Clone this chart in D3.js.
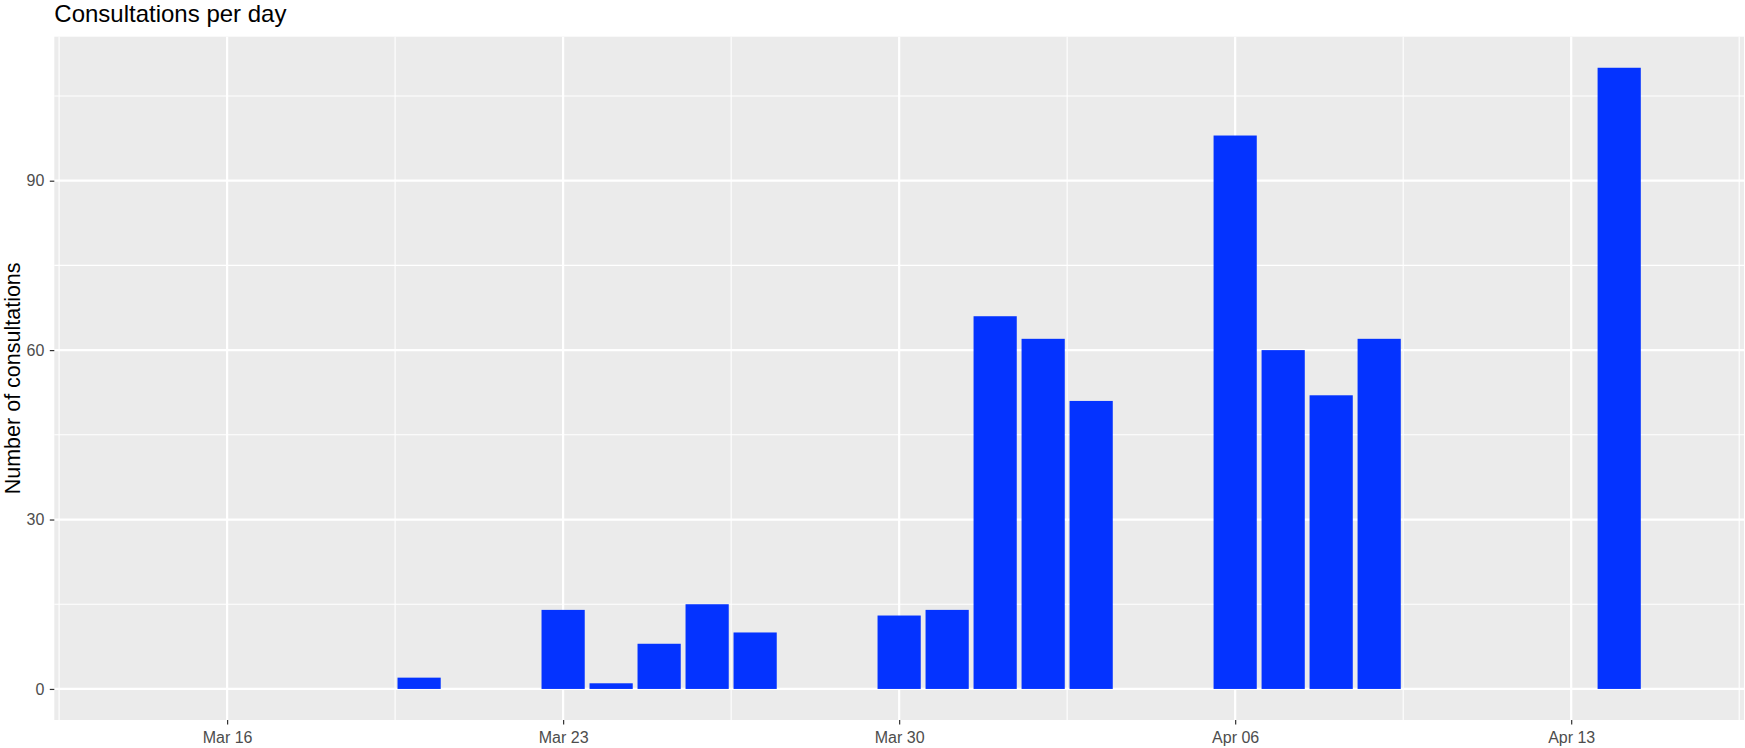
<!DOCTYPE html>
<html>
<head>
<meta charset="utf-8">
<script src="https://cdn.jsdelivr.net/npm/d3@7"></script>
<style>
  body { margin: 0; background: #fff; }
  svg text { font-family: "Liberation Sans", Arial, sans-serif; }
</style>
</head>
<body>
<div id="chart"></div>
<script>
// data
const days = ["2020-03-20", "2020-03-23", "2020-03-24", "2020-03-25", "2020-03-26", "2020-03-27",
  "2020-03-30", "2020-03-31", "2020-04-01", "2020-04-02", "2020-04-03",
  "2020-04-06", "2020-04-07", "2020-04-08", "2020-04-09", "2020-04-14"];
const consultations = [2, 14, 1, 8, 15, 10, 13, 14, 66, 62, 51, 98, 60, 52, 62, 110];

const xBreaks = ["2020-03-16", "2020-03-23", "2020-03-30", "2020-04-06", "2020-04-13"];
const xTickLabels = ["Mar 16", "Mar 23", "Mar 30", "Apr 06", "Apr 13"];
const xLimits = ["2020-03-14", "2020-04-15"];
const yBreaks = [0, 30, 60, 90];
const yMinorBreaks = [15, 45, 75, 105];

const width = 1745;
const height = 748;
const margin = { top: 36.7, right: 1, bottom: 28, left: 54.3 };
const DAY = 864e5;

const svg = d3.select('#chart')
  .append('svg')
  .attr('width', width)
  .attr('height', height);

const parse = d3.utcParse('%Y-%m-%d');
const data = days.map((d, i) => ({ date: parse(d), n: consultations[i] }));

// ggplot-style 5% expansion on both scales
const lim = xLimits.map(parse);
const span = lim[1] - lim[0];
const x = d3.scaleUtc()
  .domain([new Date(+lim[0] - span * 0.05), new Date(+lim[1] + span * 0.05)])
  .range([margin.left, width - margin.right]);

const yMax = d3.max(consultations);
const y = d3.scaleLinear()
  .domain([-yMax * 0.05, yMax * 1.05])
  .range([height - margin.bottom, margin.top]);

const majors = xBreaks.map(parse);
const minors = majors.map(d => new Date(+d - 3.5 * DAY))
  .concat([new Date(+majors[majors.length - 1] + 3.5 * DAY)])
  .filter(d => d >= x.domain()[0] && d <= x.domain()[1]);

// panel
svg.append('rect')
  .attr('x', margin.left)
  .attr('y', margin.top)
  .attr('width', width - margin.left - margin.right)
  .attr('height', height - margin.top - margin.bottom)
  .attr('fill', '#ebebeb');

const grid = svg.append('g');

grid.selectAll('.ymin')
  .data(yMinorBreaks)
  .enter()
  .append('line')
  .attr('x1', margin.left)
  .attr('x2', width - margin.right)
  .attr('y1', d => y(d))
  .attr('y2', d => y(d))
  .attr('stroke', '#fff')
  .attr('stroke-width', 1.1);

grid.selectAll('.xmin')
  .data(minors)
  .enter()
  .append('line')
  .attr('x1', d => x(d))
  .attr('x2', d => x(d))
  .attr('y1', margin.top)
  .attr('y2', height - margin.bottom)
  .attr('stroke', '#fff')
  .attr('stroke-width', 1.1);

grid.selectAll('.ymaj')
  .data(yBreaks)
  .enter()
  .append('line')
  .attr('x1', margin.left)
  .attr('x2', width - margin.right)
  .attr('y1', d => y(d))
  .attr('y2', d => y(d))
  .attr('stroke', '#fff')
  .attr('stroke-width', 2.2);

grid.selectAll('.xmaj')
  .data(majors)
  .enter()
  .append('line')
  .attr('x1', d => x(d))
  .attr('x2', d => x(d))
  .attr('y1', margin.top)
  .attr('y2', height - margin.bottom)
  .attr('stroke', '#fff')
  .attr('stroke-width', 2.2);

// bars, width 0.9 day
svg.append('g')
  .selectAll('rect')
  .data(data)
  .enter()
  .append('rect')
  .attr('x', d => x(new Date(+d.date - 0.45 * DAY)))
  .attr('width', d => x(new Date(+d.date + 0.45 * DAY)) - x(new Date(+d.date - 0.45 * DAY)))
  .attr('y', d => y(d.n))
  .attr('height', d => y(0) - y(d.n))
  .attr('fill', '#0433ff');

// axes
const xAxis = svg.append('g')
  .attr('transform', `translate(0,${height - margin.bottom})`)
  .call(d3.axisBottom(x)
    .tickValues(majors)
    .tickFormat((d, i) => xTickLabels[i])
    .tickSizeOuter(0)
    .tickSize(4.5)
    .tickPadding(7));

const yAxis = svg.append('g')
  .attr('transform', `translate(${margin.left},0)`)
  .call(d3.axisLeft(y)
    .tickValues(yBreaks)
    .tickSizeOuter(0)
    .tickSize(4.5)
    .tickPadding(5.5));

[xAxis, yAxis].forEach(a => {
  a.select('.domain').remove();
  a.selectAll('line').attr('stroke', '#333').attr('stroke-width', 1.2);
  a.selectAll('text')
    .attr('fill', '#4d4d4d')
    .style('font-size', '16px')
    .style('font-family', '"Liberation Sans", Arial, sans-serif');
});

// titles
svg.append('text')
  .attr('x', margin.left)
  .attr('y', 22)
  .attr('font-size', 24)
  .attr('fill', '#000')
  .text('Consultations per day');

svg.append('text')
  .attr('transform', `translate(20,${(margin.top + height - margin.bottom) / 2}) rotate(-90)`)
  .attr('text-anchor', 'middle')
  .attr('font-size', 21.5)
  .attr('fill', '#000')
  .text('Number of consultations');
</script>
</body>
</html>
